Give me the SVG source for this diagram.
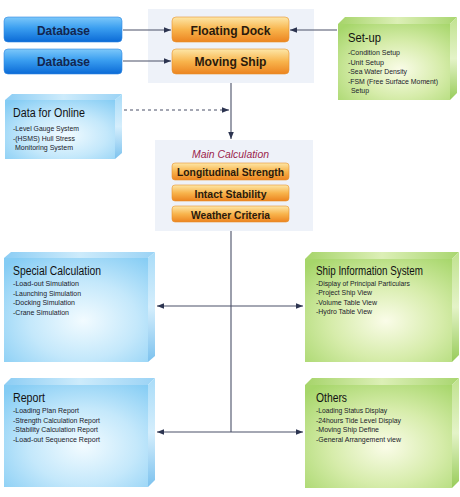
<svg xmlns="http://www.w3.org/2000/svg" width="460" height="497" viewBox="0 0 460 497">
<defs>
<linearGradient id="gBlueBtn" x1="0" y1="0" x2="0" y2="1">
<stop offset="0" stop-color="#7cc8fa"/><stop offset="0.45" stop-color="#3a9ef0"/><stop offset="1" stop-color="#0b6ad6"/>
</linearGradient>
<linearGradient id="gOrgBtn" x1="0" y1="0" x2="0" y2="1">
<stop offset="0" stop-color="#fde7a8"/><stop offset="0.5" stop-color="#f8b44c"/><stop offset="1" stop-color="#ec8420"/>
</linearGradient>
<radialGradient id="gBlueFront" cx="0.55" cy="0.6" r="0.75">
<stop offset="0" stop-color="#f2fbff"/><stop offset="0.5" stop-color="#c4e8fb"/><stop offset="1" stop-color="#84ccf4"/>
</radialGradient>
<linearGradient id="gBlueTop" x1="0" y1="0" x2="1" y2="0">
<stop offset="0" stop-color="#8ccdf4"/><stop offset="0.5" stop-color="#cdebfb"/><stop offset="1" stop-color="#9bd3f5"/>
</linearGradient>
<linearGradient id="gBlueSide" x1="0" y1="0" x2="0" y2="1">
<stop offset="0" stop-color="#a9dcf8"/><stop offset="0.5" stop-color="#d5eefc"/><stop offset="1" stop-color="#7cc2ee"/>
</linearGradient>
<radialGradient id="gGreenFront" cx="0.55" cy="0.6" r="0.75">
<stop offset="0" stop-color="#fafce8"/><stop offset="0.5" stop-color="#d6ecaa"/><stop offset="1" stop-color="#a6d66a"/>
</radialGradient>
<linearGradient id="gGreenTop" x1="0" y1="0" x2="1" y2="0">
<stop offset="0" stop-color="#a6d46a"/><stop offset="0.5" stop-color="#dcefb6"/><stop offset="1" stop-color="#a9d670"/>
</linearGradient>
<linearGradient id="gGreenSide" x1="0" y1="0" x2="0" y2="1">
<stop offset="0" stop-color="#c0e290"/><stop offset="0.5" stop-color="#e4f3c8"/><stop offset="1" stop-color="#98cc5a"/>
</linearGradient>
<marker id="arr" viewBox="0 0 10 10" refX="10" refY="5" markerWidth="7" markerHeight="7" orient="auto" markerUnits="userSpaceOnUse">
<path d="M0,1 L10,5 L0,9 z" fill="#2c3450"/>
</marker>
</defs>
<style>
.panel{fill:#eef2f9}
.btnB{fill:url(#gBlueBtn);stroke:#2f86e0;stroke-width:0.6}
.btnO{fill:url(#gOrgBtn);stroke:#e8922e;stroke-width:0.6}
.btxt{font-family:"Liberation Sans",Arial,sans-serif;font-weight:bold;font-size:12.5px;text-anchor:middle}
.bB{fill:#13264f}
.bO{fill:#2a1a0c}
.bf{fill:url(#gBlueFront)}
.bt{fill:url(#gBlueTop)}
.bs{fill:url(#gBlueSide)}
.gf{fill:url(#gGreenFront)}
.gt{fill:url(#gGreenTop)}
.gs{fill:url(#gGreenSide)}
.title{font-family:"Liberation Sans",Arial,sans-serif;font-size:12.5px;fill:#111}
.item{font-family:"Liberation Sans",Arial,sans-serif;font-size:8px;fill:#1a1a2a}
.ln{stroke:#4a5068;stroke-width:1.1;fill:none}
.dash{stroke-dasharray:3,3}
.mc{font-family:"Liberation Sans",Arial,sans-serif;font-style:italic;font-size:11px;fill:#9c1e4c;text-anchor:middle}
</style>

<rect class="panel" x="148" y="9" width="166" height="74"/>
<rect class="panel" x="155" y="140" width="158" height="91"/>

<g id="connectors">
<line class="ln" x1="123" y1="30" x2="171" y2="30" marker-end="url(#arr)"/>
<line class="ln" x1="123" y1="61" x2="171" y2="61" marker-end="url(#arr)"/>
<line class="ln" x1="337" y1="30" x2="290" y2="30" marker-end="url(#arr)"/>
<line class="ln dash" x1="124" y1="110" x2="229" y2="110" marker-end="url(#arr)"/>
<line class="ln" x1="231" y1="83" x2="231" y2="139" marker-end="url(#arr)"/>
<polyline class="ln" points="231,231 231,432"/>
<line class="ln" x1="231" y1="306" x2="157" y2="306" marker-end="url(#arr)"/>
<line class="ln" x1="231" y1="306" x2="303" y2="306" marker-end="url(#arr)"/>
<line class="ln" x1="231" y1="432" x2="157" y2="432" marker-end="url(#arr)"/>
<line class="ln" x1="231" y1="432" x2="303" y2="432" marker-end="url(#arr)"/>
</g>

<g id="db1">
<rect class="btnB" x="4" y="17" width="118" height="25" rx="4"/>
<text class="btxt bB" x="63.5" y="34.5" textLength="53" lengthAdjust="spacingAndGlyphs">Database</text>
</g>
<g id="db2">
<rect class="btnB" x="4" y="49" width="118" height="25" rx="4"/>
<text class="btxt bB" x="63.5" y="66" textLength="53" lengthAdjust="spacingAndGlyphs">Database</text>
</g>
<g id="floatingDock">
<rect class="btnO" x="172" y="17" width="117" height="25" rx="4"/>
<text class="btxt bO" x="230.5" y="34.5" style="font-size:13px" textLength="80" lengthAdjust="spacingAndGlyphs">Floating Dock</text>
</g>
<g id="movingShip">
<rect class="btnO" x="172" y="49" width="117" height="25" rx="4"/>
<text class="btxt bO" x="230.5" y="66" style="font-size:13px" textLength="72" lengthAdjust="spacingAndGlyphs">Moving Ship</text>
</g>

<g id="setup">
<rect class="gf" x="338" y="24" width="112" height="76"/>
<polygon class="gt" points="338,24 345,17 457,17 450,24"/>
<polygon class="gs" points="450,24 457,17 457,93 450,100"/>
<text class="title" x="348" y="42" textLength="33" lengthAdjust="spacingAndGlyphs">Set-up</text>
<text class="item" x="348" y="55" textLength="52" lengthAdjust="spacingAndGlyphs">-Condition Setup</text>
<text class="item" x="348" y="64.5" textLength="36" lengthAdjust="spacingAndGlyphs">-Unit Setup</text>
<text class="item" x="348" y="74" textLength="59" lengthAdjust="spacingAndGlyphs">-Sea Water Density</text>
<text class="item" x="348" y="83.5" textLength="90" lengthAdjust="spacingAndGlyphs">-FSM (Free Surface Moment)</text>
<text class="item" x="351" y="93" textLength="18" lengthAdjust="spacingAndGlyphs">Setup</text>
</g>

<g id="dataOnline">
<rect class="bf" x="5" y="100" width="110" height="59"/>
<polygon class="bt" points="5,100 12,94 122,94 115,100"/>
<polygon class="bs" points="115,100 122,94 122,153 115,159"/>
<text class="title" x="13" y="117" textLength="72" lengthAdjust="spacingAndGlyphs">Data for Online</text>
<text class="item" x="13" y="131" textLength="66" lengthAdjust="spacingAndGlyphs">-Level Gauge System</text>
<text class="item" x="13" y="140.5" textLength="62" lengthAdjust="spacingAndGlyphs">-(HSMS) Hull Stress</text>
<text class="item" x="15" y="150" textLength="58" lengthAdjust="spacingAndGlyphs">Monitoring System</text>
</g>

<g id="mainCalc">
<text class="mc" x="230.5" y="158" textLength="77" lengthAdjust="spacingAndGlyphs">Main Calculation</text>
<rect class="btnO" x="172" y="163" width="117" height="17" rx="3"/>
<text class="btxt bO" x="230.5" y="176" style="font-size:11.5px" textLength="107" lengthAdjust="spacingAndGlyphs">Longitudinal Strength</text>
<rect class="btnO" x="172" y="185" width="117" height="16" rx="3"/>
<text class="btxt bO" x="230.5" y="197.5" style="font-size:11.5px" textLength="72" lengthAdjust="spacingAndGlyphs">Intact Stability</text>
<rect class="btnO" x="172" y="206" width="117" height="16" rx="3"/>
<text class="btxt bO" x="230.5" y="218.5" style="font-size:11.5px" textLength="79" lengthAdjust="spacingAndGlyphs">Weather Criteria</text>
</g>

<g id="specialCalc">
<rect class="bf" x="4" y="258" width="144" height="104"/>
<polygon class="bt" points="4,258 11,252 155,252 148,258"/>
<polygon class="bs" points="148,258 155,252 155,356 148,362"/>
<text class="title" x="13" y="275" textLength="88" lengthAdjust="spacingAndGlyphs">Special Calculation</text>
<text class="item" x="13" y="286" textLength="66" lengthAdjust="spacingAndGlyphs">-Load-out Simulation</text>
<text class="item" x="13" y="295.5" textLength="68" lengthAdjust="spacingAndGlyphs">-Launching Simulation</text>
<text class="item" x="13" y="305" textLength="62" lengthAdjust="spacingAndGlyphs">-Docking Simulation</text>
<text class="item" x="13" y="314.5" textLength="56" lengthAdjust="spacingAndGlyphs">-Crane Simulation</text>
</g>

<g id="shipInfo">
<rect class="gf" x="305" y="259" width="147" height="103"/>
<polygon class="gt" points="305,259 312,252 459,252 452,259"/>
<polygon class="gs" points="452,259 459,252 459,355 452,362"/>
<text class="title" x="316" y="275" textLength="107" lengthAdjust="spacingAndGlyphs">Ship Information System</text>
<text class="item" x="316" y="285.5" textLength="94" lengthAdjust="spacingAndGlyphs">-Display of Principal Particulars</text>
<text class="item" x="316" y="295" textLength="56" lengthAdjust="spacingAndGlyphs">-Project Ship View</text>
<text class="item" x="316" y="304.5" textLength="61" lengthAdjust="spacingAndGlyphs">-Volume Table View</text>
<text class="item" x="316" y="314" textLength="56" lengthAdjust="spacingAndGlyphs">-Hydro Table View</text>
</g>

<g id="report">
<rect class="bf" x="4" y="385" width="144" height="102"/>
<polygon class="bt" points="4,385 11,378 155,378 148,385"/>
<polygon class="bs" points="148,385 155,378 155,480 148,487"/>
<text class="title" x="13" y="402" textLength="32" lengthAdjust="spacingAndGlyphs">Report</text>
<text class="item" x="13" y="413" textLength="66" lengthAdjust="spacingAndGlyphs">-Loading Plan Report</text>
<text class="item" x="13" y="422.5" textLength="87" lengthAdjust="spacingAndGlyphs">-Strength Calculation Report</text>
<text class="item" x="13" y="432" textLength="85" lengthAdjust="spacingAndGlyphs">-Stability Calculation Report</text>
<text class="item" x="13" y="441.5" textLength="87" lengthAdjust="spacingAndGlyphs">-Load-out Sequence Report</text>
</g>

<g id="others">
<rect class="gf" x="305" y="385" width="147" height="103"/>
<polygon class="gt" points="305,385 312,378 459,378 452,385"/>
<polygon class="gs" points="452,385 459,378 459,481 452,488"/>
<text class="title" x="316" y="402" textLength="31" lengthAdjust="spacingAndGlyphs">Others</text>
<text class="item" x="316" y="413" textLength="71" lengthAdjust="spacingAndGlyphs">-Loading Status Display</text>
<text class="item" x="316" y="422.5" textLength="85" lengthAdjust="spacingAndGlyphs">-24hours Tide Level Display</text>
<text class="item" x="316" y="432" textLength="63" lengthAdjust="spacingAndGlyphs">-Moving Ship Define</text>
<text class="item" x="316" y="441.5" textLength="85" lengthAdjust="spacingAndGlyphs">-General Arrangement view</text>
</g>
</svg>
